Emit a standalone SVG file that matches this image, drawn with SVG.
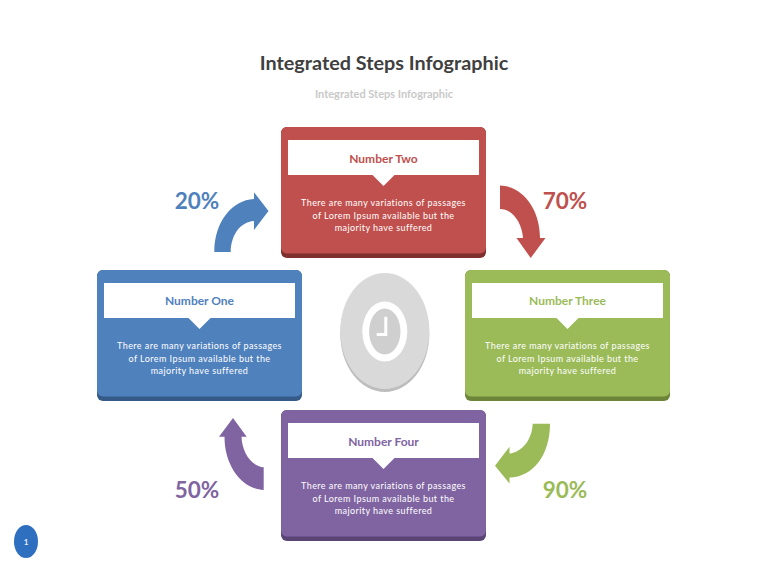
<svg xmlns="http://www.w3.org/2000/svg" width="768" height="576" viewBox="0 0 768 576">
<style>
text{font-family:Lato,"Liberation Sans",sans-serif;text-anchor:middle}
.h{font-size:12px;font-weight:700}
.b{font-size:9px;font-weight:400;fill:#fff;letter-spacing:.43px}
.p{font-size:22.500px;font-weight:700}
.red{fill:#c0504d}.blue{fill:#4f81bd}.green{fill:#9bbb59}.purple{fill:#8064a2}
.dred{fill:#7f2f2d}.dblue{fill:#355a88}.dgreen{fill:#6c8539}.dpurple{fill:#5a4476}
</style>
<defs>
<path id="banner" d="M7 13H198V48H113.500L102.500 59 91.500 48H7Z" fill="#fff"/>
<rect id="base" width="205" height="131" rx="6"/>
<rect id="top" width="205" height="126.500" rx="6"/>
</defs>
<rect width="768" height="576" fill="#fff"/>
<text id="title" x="384" y="70" font-size="19.800" font-weight="700" fill="#404040">Integrated Steps Infographic</text>
<text id="subtitle" x="384" y="98" font-size="11" font-weight="700" fill="#c9c9c9">Integrated Steps Infographic</text>

<g id="node-two" transform="translate(281 127)">
<use href="#base" class="dred"/><use href="#top" class="red"/><use href="#banner"/>
<text class="h red" x="102.500" y="35.500">Number Two</text>
<text class="b" x="102.500" y="78.500">There are many variations of passages</text>
<text class="b" x="102.500" y="91.500">of Lorem Ipsum available but the</text>
<text class="b" x="102.500" y="103.500">majority have suffered</text>
</g>
<g id="node-one" transform="translate(97 270)">
<use href="#base" class="dblue"/><use href="#top" class="blue"/><use href="#banner"/>
<text class="h blue" x="102.500" y="35">Number One</text>
<text class="b" x="102.500" y="78.500">There are many variations of passages</text>
<text class="b" x="102.500" y="91.500">of Lorem Ipsum available but the</text>
<text class="b" x="102.500" y="103.500">majority have suffered</text>
</g>
<g id="node-three" transform="translate(465 270)">
<use href="#base" class="dgreen"/><use href="#top" class="green"/><use href="#banner"/>
<text class="h green" x="102.500" y="35">Number Three</text>
<text class="b" x="102.500" y="78.500">There are many variations of passages</text>
<text class="b" x="102.500" y="91.500">of Lorem Ipsum available but the</text>
<text class="b" x="102.500" y="103.500">majority have suffered</text>
</g>
<g id="node-four" transform="translate(281 410)">
<use href="#base" class="dpurple"/><use href="#top" class="purple"/><use href="#banner"/>
<text class="h purple" x="102.500" y="35.500">Number Four</text>
<text class="b" x="102.500" y="78.500">There are many variations of passages</text>
<text class="b" x="102.500" y="91.500">of Lorem Ipsum available but the</text>
<text class="b" x="102.500" y="103.500">majority have suffered</text>
</g>

<g id="node-clock">
<ellipse cx="384.800" cy="334" rx="44.500" ry="58" fill="#bdbdbd"/>
<ellipse cx="384.800" cy="331" rx="44.500" ry="58" fill="#d9d9d9"/>
<ellipse cx="384.800" cy="331.500" rx="22.500" ry="30" fill="#fff"/>
<ellipse cx="384.800" cy="331.500" rx="15.700" ry="23" fill="#cfcfcf"/>
<path d="M384.300 316.700h3V336h-10.600v-3h7.600Z" fill="#fff"/>
</g>

<g id="connectors">
<path class="blue" d="M214.300 252C214.300 222 232 200 254 199V192.300L268.500 211 254 230V221C240 222 231 235 230.700 252Z"/>
<path class="red" d="M500 185.500C522 186 540 208 540 238H545.500L530.700 258 516.500 238H523C522 222 512 209 500 209Z"/>
<path class="green" d="M550 423.700C550 455 533 477 509.500 477.500V483.500L495 465.700 509.500 446.700V453.500C522 452 532 440 532.700 423.700Z"/>
<path class="purple" d="M263.700 490C242 489 224.500 466 224.500 436.700H219L233 418 246.700 436.700H241.500C242 452 251 466 263.700 467.300Z"/>
</g>

<text id="pct-20" class="p blue" x="197" y="209">20%</text>
<text id="pct-70" class="p red" x="565" y="209">70%</text>
<text id="pct-90" class="p green" x="565" y="498">90%</text>
<text id="pct-50" class="p purple" x="197" y="498">50%</text>

<g id="page-number">
<ellipse cx="26" cy="541.500" rx="12" ry="16.500" fill="#2f6fc0"/>
<text x="26" y="544.500" font-size="8" font-weight="700" fill="#e8eef8">1</text>
</g>
</svg>
